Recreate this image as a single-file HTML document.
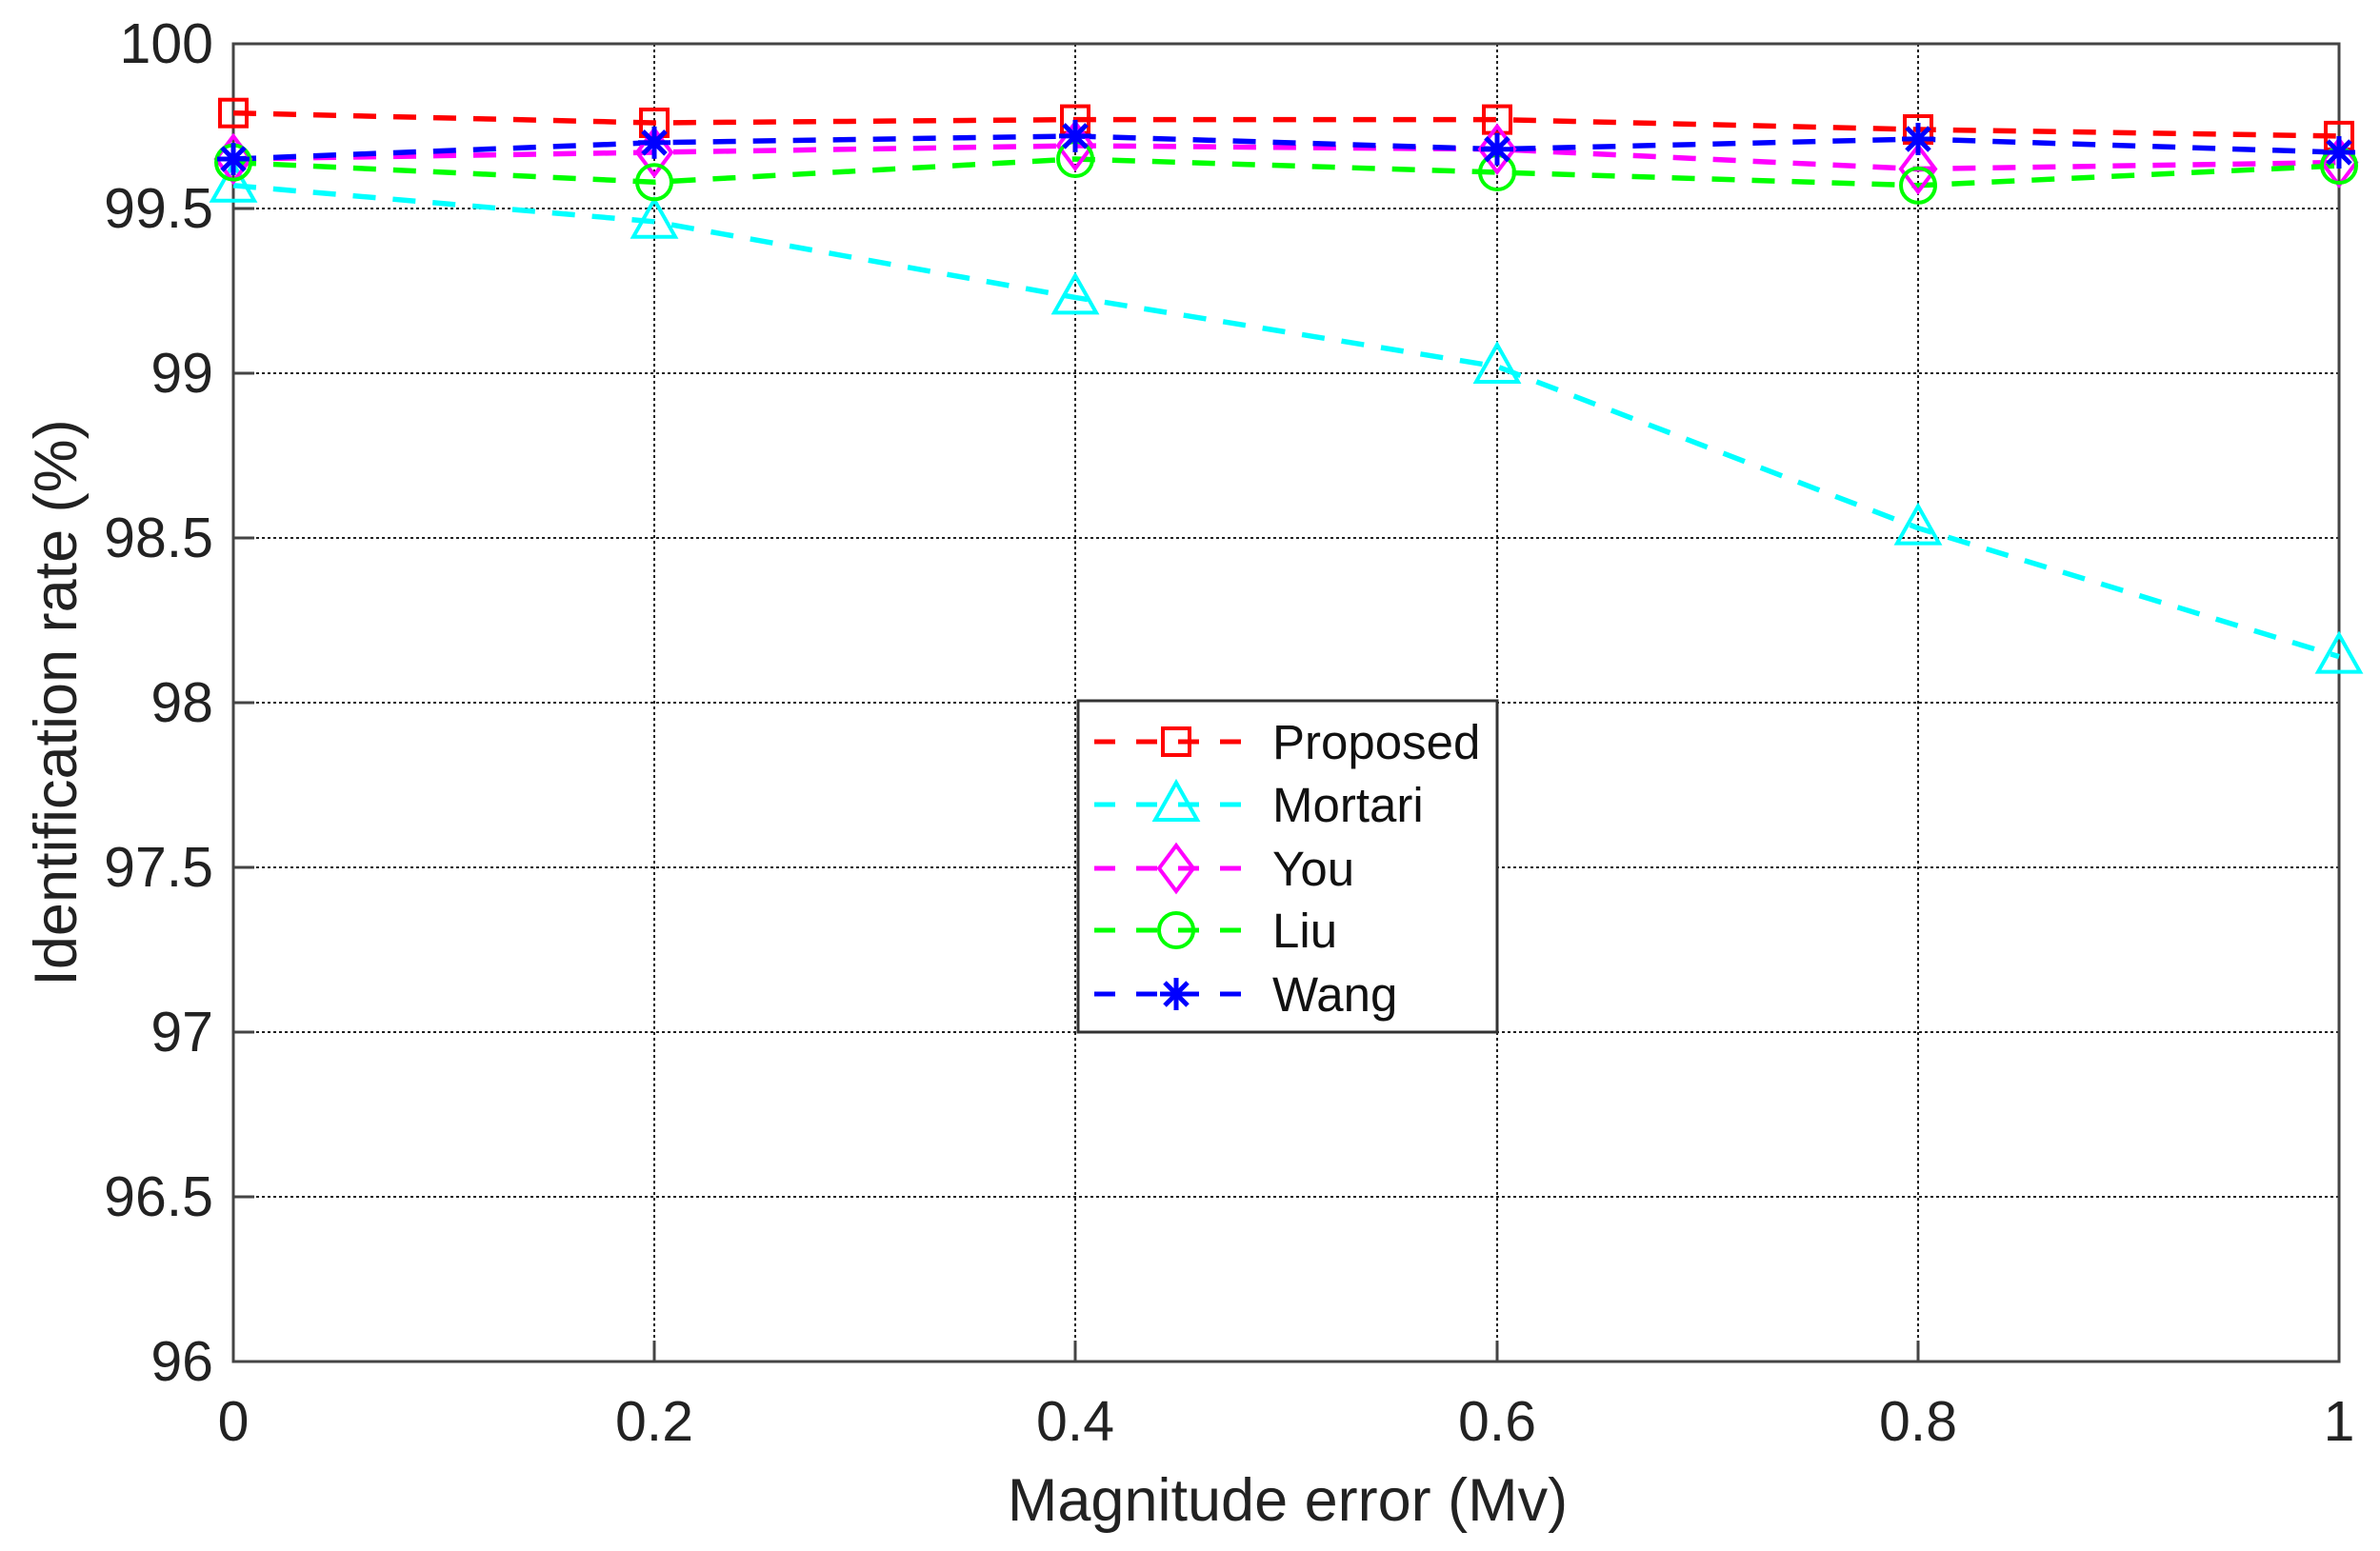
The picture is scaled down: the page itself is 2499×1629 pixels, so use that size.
<!DOCTYPE html>
<html><head><meta charset="utf-8"><style>
html,body{margin:0;padding:0;background:#fff;}
svg{display:block;font-family:"Liberation Sans",Arial,sans-serif;}
</style></head><body>
<svg width="2499" height="1629" viewBox="0 0 2499 1629" xmlns="http://www.w3.org/2000/svg">
<rect width="2499" height="1629" fill="#fff"/>
<g stroke="#222" stroke-width="2" stroke-dasharray="3,3">
<line x1="687" y1="46" x2="687" y2="1430"/><line x1="1129" y1="46" x2="1129" y2="1430"/>
<line x1="1572" y1="46" x2="1572" y2="1430"/><line x1="2014" y1="46" x2="2014" y2="1430"/>
<line x1="245" y1="219" x2="2456" y2="219"/><line x1="245" y1="392" x2="2456" y2="392"/>
<line x1="245" y1="565" x2="2456" y2="565"/><line x1="245" y1="738" x2="2456" y2="738"/>
<line x1="245" y1="911" x2="2456" y2="911"/><line x1="245" y1="1084" x2="2456" y2="1084"/>
<line x1="245" y1="1257" x2="2456" y2="1257"/>
</g>
<rect x="245" y="46" width="2211" height="1384" fill="none" stroke="#444" stroke-width="3"/>
<g stroke="#444" stroke-width="3">
<line x1="687" y1="1430" x2="687" y2="1408"/><line x1="1129" y1="1430" x2="1129" y2="1408"/><line x1="1572" y1="1430" x2="1572" y2="1408"/><line x1="2014" y1="1430" x2="2014" y2="1408"/>
<line x1="245" y1="219" x2="267" y2="219"/><line x1="245" y1="392" x2="267" y2="392"/><line x1="245" y1="565" x2="267" y2="565"/><line x1="245" y1="738" x2="267" y2="738"/><line x1="245" y1="911" x2="267" y2="911"/><line x1="245" y1="1084" x2="267" y2="1084"/><line x1="245" y1="1257" x2="267" y2="1257"/>
</g>
<g font-size="59" fill="#222" text-anchor="end">
<text x="224" y="66">100</text><text x="224" y="239">99.5</text><text x="224" y="412">99</text><text x="224" y="585">98.5</text><text x="224" y="758">98</text><text x="224" y="931">97.5</text><text x="224" y="1104">97</text><text x="224" y="1277">96.5</text><text x="224" y="1450">96</text>
</g>
<g font-size="59" fill="#222" text-anchor="middle">
<text x="245" y="1513">0</text><text x="687" y="1513">0.2</text><text x="1129" y="1513">0.4</text><text x="1572" y="1513">0.6</text><text x="2014" y="1513">0.8</text><text x="2456" y="1513">1</text>
<text x="1352" y="1597" font-size="63">Magnitude error (Mv)</text>
<text transform="translate(80,738) rotate(-90)" font-size="63">Identification rate (%)</text>
</g>
<g fill="none" stroke-width="5.5" stroke-dasharray="24,18">
<polyline stroke="#ff0000" points="245,118.7 687,129 1129,125.6 1572,125.6 2014,136 2456,142.9"/>
<polyline stroke="#00ffff" points="245,194.8 687,232.8 1129,312.4 1572,385 2014,554.6 2456,689.6"/>
<polyline stroke="#ff00ff" points="245,167 687,160 1129,153 1572,156.7 2014,177.5 2456,170.6"/>
<polyline stroke="#00ff00" points="245,170.6 687,191.3 1129,167 1572,181 2014,194.8 2456,174"/>
<polyline stroke="#0000ff" points="245,167 687,149.8 1129,142.9 1572,156.7 2014,146 2456,160"/>
</g>
<defs>
<g id="sq"><rect x="-14" y="-14" width="28" height="28" fill="none" stroke="#ff0000" stroke-width="4"/></g>
<g id="tr"><polygon points="0,-23 -22,16 22,16" fill="none" stroke="#00ffff" stroke-width="4"/></g>
<g id="di"><polygon points="0,-24 18,0 0,24 -18,0" fill="none" stroke="#ff00ff" stroke-width="4"/></g>
<g id="ci"><circle r="18" fill="none" stroke="#00ff00" stroke-width="4"/></g>
<g id="st" stroke="#0000ff" stroke-width="5"><line x1="0" y1="-17" x2="0" y2="17"/><line x1="-17" y1="0" x2="17" y2="0"/><line x1="-12" y1="-12" x2="12" y2="12"/><line x1="-12" y1="12" x2="12" y2="-12"/></g>
</defs>
<use href="#sq" x="245" y="118.7"/><use href="#sq" x="687" y="129"/><use href="#sq" x="1129" y="125.6"/><use href="#sq" x="1572" y="125.6"/><use href="#sq" x="2014" y="136"/><use href="#sq" x="2456" y="142.9"/>
<use href="#tr" x="245" y="194.8"/><use href="#tr" x="687" y="232.8"/><use href="#tr" x="1129" y="312.4"/><use href="#tr" x="1572" y="385"/><use href="#tr" x="2014" y="554.6"/><use href="#tr" x="2456" y="689.6"/>
<use href="#di" x="245" y="167"/><use href="#di" x="687" y="160"/><use href="#di" x="1129" y="153"/><use href="#di" x="1572" y="156.7"/><use href="#di" x="2014" y="177.5"/><use href="#di" x="2456" y="170.6"/>
<use href="#ci" x="245" y="170.6"/><use href="#ci" x="687" y="191.3"/><use href="#ci" x="1129" y="167"/><use href="#ci" x="1572" y="181"/><use href="#ci" x="2014" y="194.8"/><use href="#ci" x="2456" y="174"/>
<use href="#st" x="245" y="167"/><use href="#st" x="687" y="149.8"/><use href="#st" x="1129" y="142.9"/><use href="#st" x="1572" y="156.7"/><use href="#st" x="2014" y="146"/><use href="#st" x="2456" y="160"/>
<rect x="1132" y="736" width="440" height="348" fill="#fff" stroke="#333" stroke-width="3"/>
<g fill="none" stroke-width="5" stroke-dasharray="22,22">
<line x1="1149" y1="779" x2="1305" y2="779" stroke="#ff0000"/>
<line x1="1149" y1="845" x2="1305" y2="845" stroke="#00ffff"/>
<line x1="1149" y1="912" x2="1305" y2="912" stroke="#ff00ff"/>
<line x1="1149" y1="977" x2="1305" y2="977" stroke="#00ff00"/>
<line x1="1149" y1="1044" x2="1305" y2="1044" stroke="#0000ff"/>
</g>
<use href="#sq" x="1235" y="779"/><use href="#tr" x="1235" y="845"/><use href="#di" x="1235" y="912"/><use href="#ci" x="1235" y="977"/><use href="#st" x="1235" y="1044"/>
<g font-size="51" fill="#111">
<text x="1336" y="797">Proposed</text><text x="1336" y="863">Mortari</text><text x="1336" y="930">You</text><text x="1336" y="995">Liu</text><text x="1336" y="1062">Wang</text>
</g>
</svg>
</body></html>
